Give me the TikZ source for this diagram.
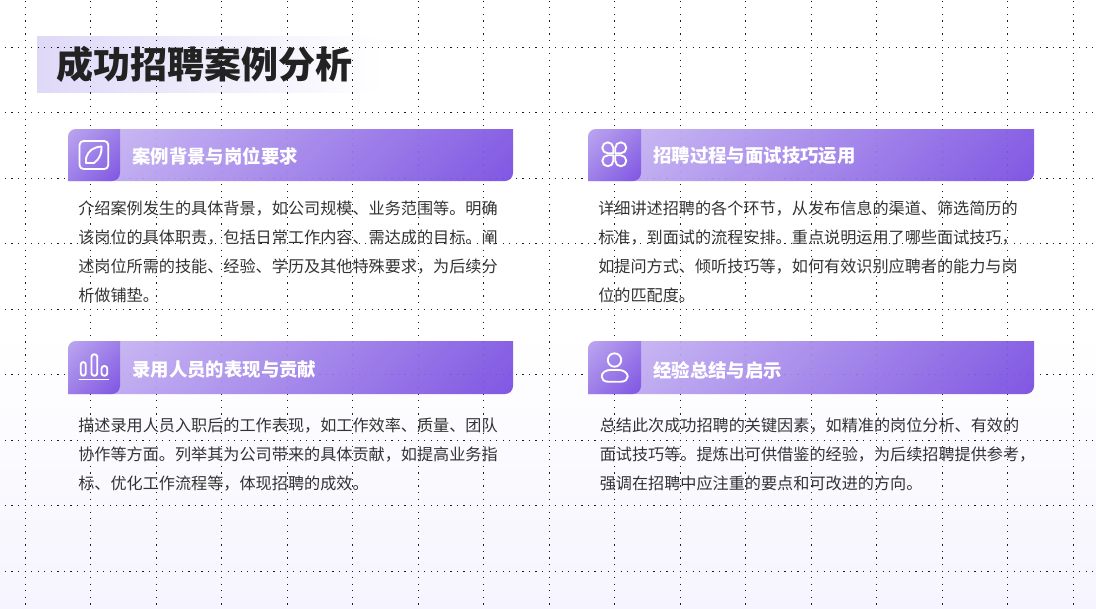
\documentclass[tikz,border=0pt]{standalone}
\usepackage{fontspec}
\setmainfont{Noto Sans CJK SC}
\definecolor{hdrA}{HTML}{CDBDF3}
\definecolor{hdrB}{HTML}{774BE1}
\definecolor{icoA}{HTML}{BBA5EF}
\definecolor{icoB}{HTML}{7A4FE2}
\definecolor{bannerA}{HTML}{DFD9F8}
\definecolor{bgB}{HTML}{F6F4FE}
\definecolor{bodyc}{HTML}{333333}
\definecolor{titlec}{HTML}{222222}
\definecolor{dotc}{HTML}{1A1A1A}
\pgfdeclarehorizontalshading{hdrshade}{100bp}{color(0bp)=(hdrA); color(37.5bp)=(hdrA); color(62.5bp)=(hdrB); color(100bp)=(hdrB)}
\pgfdeclarehorizontalshading{icoshade}{100bp}{color(0bp)=(icoA); color(37.5bp)=(icoA); color(62.5bp)=(icoB); color(100bp)=(icoB)}
\tikzset{
  x=0.75pt,y=-0.75pt,
  griddot/.style={dotc,line width=0.9pt,dash pattern=on 0.9pt off 4.0125pt},
  headtext/.style={anchor=west,inner sep=0,text=white,font=\fontsize{13.8}{16}\selectfont\bfseries},
  bodytext/.style={anchor=north west,inner sep=0,align=left,text=bodyc,font=\fontsize{12.1}{21.75}\selectfont},
  iconline/.style={draw=white,line width=1.4pt,line join=round,line cap=round},
}
% #1 x0, #2 y0, #3 x1, #4 y1, #5 shading, #6 radius
\newcommand{\gradbox}[6]{%
  \begin{scope}
    \clip (#1,#4) -- (#1,#2+#6) .. controls (#1,#2+0.45*#6) and (#1+0.45*#6,#2) .. (#1+#6,#2)
      -- (#3,#2) -- (#3,#4-#6) .. controls (#3,#4-0.45*#6) and (#3-0.45*#6,#4) .. (#3-#6,#4) -- cycle;
    \pgfmathsetmacro{\mycx}{(#1+#3)/2}
    \pgfmathsetmacro{\mycy}{(#2+#4)/2}
    \pgfmathsetmacro{\myhs}{(#3-#1+#4-#2)*0.7071}
    \shade[shading=#5,shading angle=-45,opacity=0.93] (\mycx-\myhs,\mycy-\myhs) rectangle (\mycx+\myhs,\mycy+\myhs);
  \end{scope}}
\newcommand{\petal}[4]{%
  \begin{scope}[shift={(#1,#2)},xscale=#3,yscale=#4]
    \draw[iconline] (1,1) -- (1,6.5) .. controls (1,9.5) and (3.5,12) .. (6.5,12)
      .. controls (9.5,12) and (12,9.5) .. (12,6.5)
      .. controls (12,3.5) and (9.5,1) .. (6.5,1) -- cycle;
  \end{scope}}
\begin{document}
\begin{tikzpicture}
\useasboundingbox (0,0) rectangle (1096,608);
% page background
\fill[white] (0,0) rectangle (1096,608);
\shade[top color=white,bottom color=bgB] (0,330) rectangle (1096,608);
% title banner
\shade[left color=bannerA,right color=white] (37,36) rectangle (382,92);
% dotted grid
\foreach \gx in {0,...,16} {
  \draw[griddot] (25.2+65.5*\gx,0.7) -- (25.2+65.5*\gx,608);
}
\foreach \gy in {0,...,8} {
  \draw[griddot] (4.9,47.3+65.5*\gy) -- (1096,47.3+65.5*\gy);
}
% headers
\gradbox{68}{129}{513}{181}{hdrshade}{8}
\gradbox{68}{129}{120}{181}{icoshade}{8}
\gradbox{588}{129}{1034}{181}{hdrshade}{8}
\gradbox{588}{129}{641}{181}{icoshade}{8}
\gradbox{68}{341}{513}{394}{hdrshade}{8}
\gradbox{68}{341}{120}{394}{icoshade}{8}
\gradbox{588}{341}{1034}{394}{hdrshade}{8}
\gradbox{588}{341}{641}{394}{icoshade}{8}
% icon 1: pencil
\draw[iconline,rounded corners=3pt] (79.5,141) rectangle (108.3,169);
\draw[iconline] (86,163) .. controls (84.5,156) and (90,149) .. (96,147.5)
  .. controls (98,147) and (100,146.5) .. (101.5,146.5)
  .. controls (102,152) and (100,159) .. (94,163) -- cycle;
% icon 2: clover
\petal{614.3}{154.3}{-1}{-1}
\petal{614.3}{154.3}{1}{-1}
\petal{614.3}{154.3}{-1}{1}
\petal{614.3}{154.3}{1}{1}
% icon 3: bars
\draw[iconline,rounded corners=2pt] (80.8,362) rectangle (85.8,375.7);
\draw[iconline,rounded corners=2pt] (91.5,354.3) rectangle (97.3,375.7);
\draw[iconline,rounded corners=2pt] (101.5,366) rectangle (107.3,375.7);
\draw[iconline] (79.5,379.5) -- (108.3,379.5);
% icon 4: person
\draw[iconline] (614.5,360) circle[radius=6.7];
\draw[iconline] (608,381.7) .. controls (604,381.7) and (601.7,379.5) .. (601.7,376.5)
  .. controls (601.7,372.5) and (606,370) .. (610,370) -- (619,370)
  .. controls (623,370) and (627.7,372.5) .. (627.7,376.5)
  .. controls (627.7,379.5) and (625,381.7) .. (621,381.7) -- cycle;
% title
\node[anchor=west,inner sep=0,text=titlec,font=\fontsize{27.75}{32}\selectfont\bfseries] (title) at (56,64.3) {成功招聘案例分析};
% header labels
\node[headtext] (h1) at (132,156) {案例背景与岗位要求};
\node[headtext] (h2) at (653,156) {招聘过程与面试技巧运用};
\node[headtext] (h3) at (132,370) {录用人员的表现与贡献};
\node[headtext] (h4) at (653,370) {经验总结与启示};
% bodies
\node[bodytext] (b1) at (78,201) {介绍案例发生的具体背景，如公司规模、业务范围等。明确\\该岗位的具体职责，包括日常工作内容、需达成的目标。阐\\述岗位所需的技能、经验、学历及其他特殊要求，为后续分\\析做铺垫。};
\node[bodytext] (b2) at (598,201) {详细讲述招聘的各个环节，从发布信息的渠道、筛选简历的\\标准，到面试的流程安排。重点说明运用了哪些面试技巧，\\如提问方式、倾听技巧等，如何有效识别应聘者的能力与岗\\位的匹配度。};
\node[bodytext] (b3) at (78,418) {描述录用人员入职后的工作表现，如工作效率、质量、团队\\协作等方面。列举其为公司带来的具体贡献，如提高业务指\\标、优化工作流程等，体现招聘的成效。};
\node[bodytext] (b4) at (599.5,418) {总结此次成功招聘的关键因素，如精准的岗位分析、有效的\\面试技巧等。提炼出可供借鉴的经验，为后续招聘提供参考，\\强调在招聘中应注重的要点和可改进的方向。};
\end{tikzpicture}
\end{document}
